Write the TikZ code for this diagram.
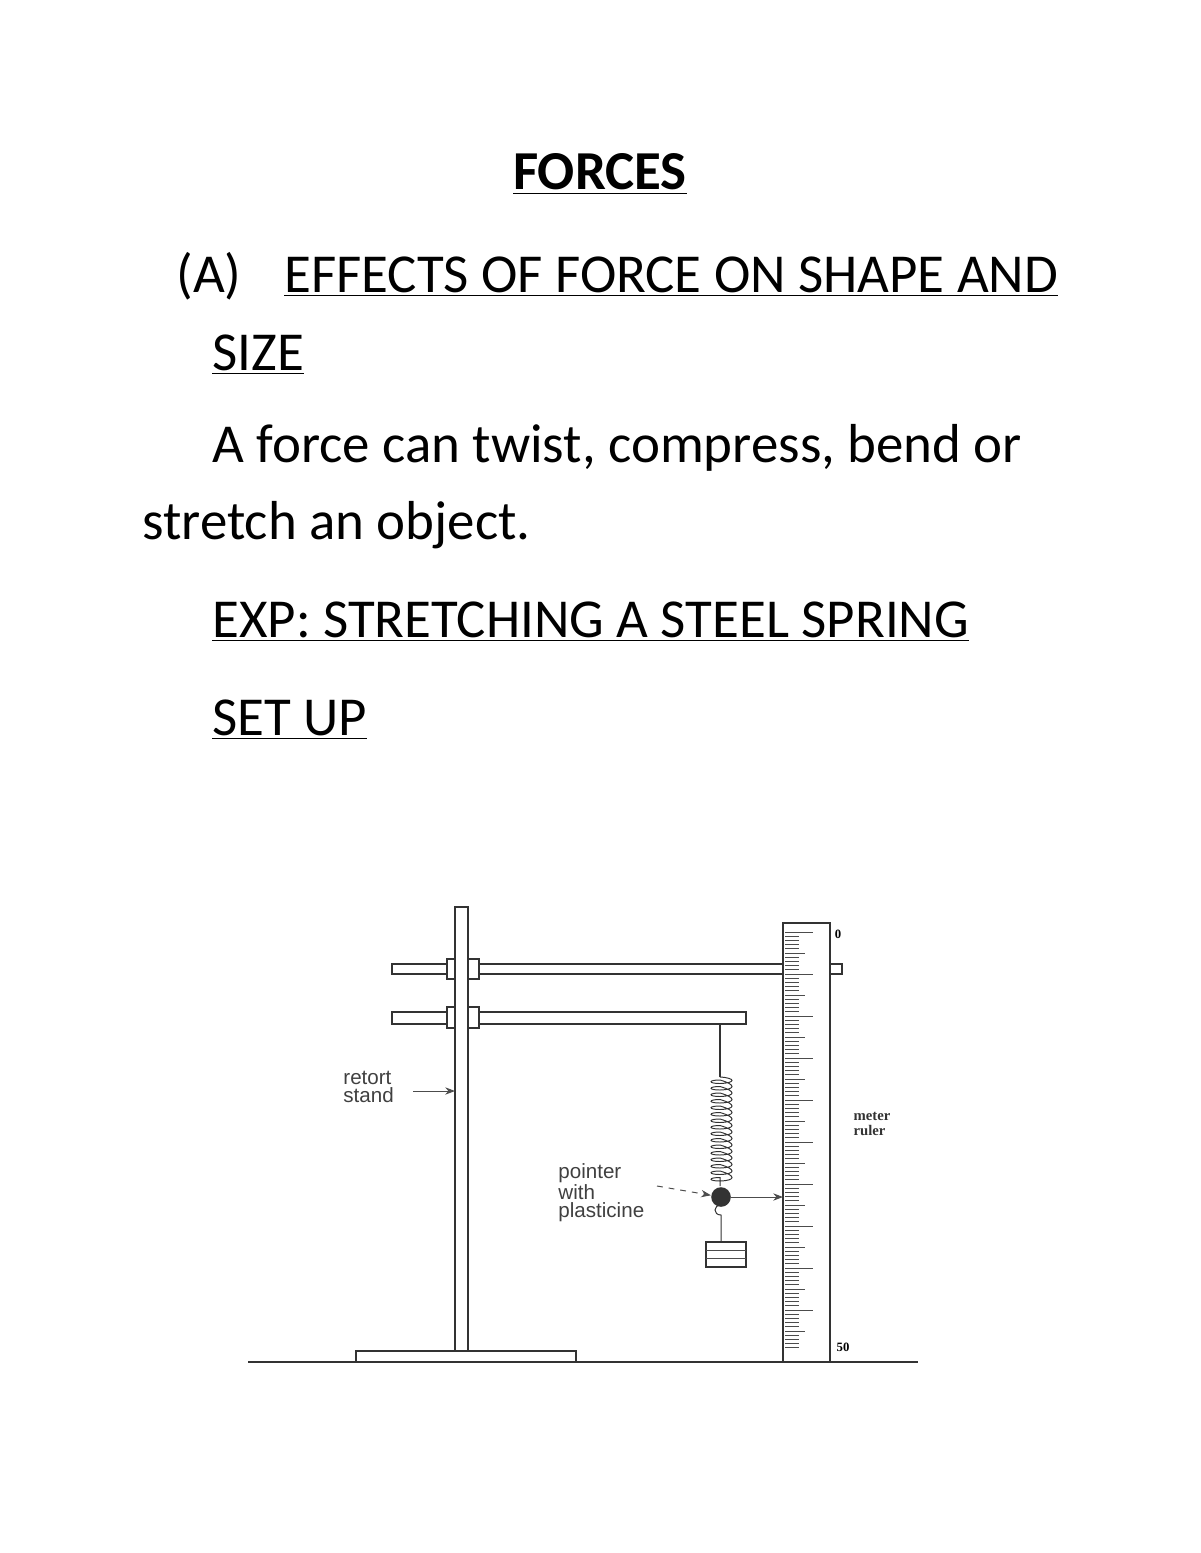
\documentclass[tikz,border=0pt]{standalone}
\usepackage{fontspec}
\setmainfont{Carlito}
\newfontfamily\armfont{Liberation Sans}
\newfontfamily\serfont{Liberation Serif}
\usetikzlibrary{arrows.meta}
\begin{document}
\begin{tikzpicture}[x=0.51pt,y=-0.51pt,
  body/.style={font=\fontsize{28}{30}\selectfont,anchor=base west,inner sep=0pt},
  lab/.style={font=\armfont\fontsize{10.5}{9}\selectfont,align=left,anchor=north west,inner sep=0pt,text=black!75},
  part/.style={draw=black!80,fill=white,line width=0.6pt},
  arr/.style={-{Stealth[length=5pt]},draw=black!70,line width=0.5pt}]
\useasboundingbox (0,0) rectangle (1200,1553);
\node[body,anchor=base] (title) at (600,190) {\textbf{\underline{FORCES}}};
\node[body] (a) at (176,292) {(A)};
\node[body] (h1) at (284,292) {\underline{EFFECTS OF FORCE ON SHAPE AND}};
\node[body] (h2) at (212,370) {\underline{SIZE}};
\node[body] (p1) at (212,462) {A force can twist, compress, bend or};
\node[body] (p2) at (142,539) {stretch an object.};
\node[body] (e) at (212,637) {\underline{EXP: STRETCHING A STEEL SPRING}};
\node[body] (s) at (212,735) {\underline{SET UP}};
% apparatus
\draw[black!80,line width=0.7pt] (248,1362) -- (918,1362);
\draw[part] (356,1351) rectangle (576,1362);
\draw[part] (392,964) rectangle (842,974);
\draw[part] (392,1012) rectangle (746,1024);
\draw[part] (455,907) rectangle (468,1351);
\draw[part] (447,959) rectangle (455,979);
\draw[part] (468,959) rectangle (479,979);
\draw[part] (447,1007) rectangle (455,1028);
\draw[part] (468,1007) rectangle (479,1028);
\draw[part] (783,923) rectangle (830,1362);
\foreach \i in {0,...,99}{
  \pgfmathsetmacro\yy{932+\i*4.2}
  \pgfmathsetmacro\ll{mod(\i,10)==0 ? 28 : (mod(\i,5)==0 ? 20 : 14)}
  \draw[black!70,line width=0.45pt] (785,\yy) -- ++(\ll,0);
}
\node[font=\serfont\fontsize{6.5}{6}\selectfont\bfseries] (zero) at (838,934) {0};
\node[font=\serfont\fontsize{6.5}{6}\selectfont\bfseries] (fifty) at (843,1347) {50};
\node[font=\serfont\fontsize{7.5}{7.5}\selectfont\bfseries,align=left,text=black!80] (mr) at (872,1124) {meter\\ruler};
% spring
\coordinate (top) at (720,1024);
\coordinate (sp) at (720,1077);
\draw[black!80,line width=0.6pt] (top) -- (sp);
\draw[black!80,line width=0.5pt] (sp) \foreach \k in {0,...,15}{ .. controls (736,1077+\k*6.5+1) and (736,1077+\k*6.5+6) .. (720,1077+\k*6.5+6.5) .. controls (708,1077+\k*6.5+6.5) and (708,1077+\k*6.5+3) .. (720,1077+\k*6.5+3)} -- (720,1186);
\node[circle,fill=black!80,inner sep=0pt,minimum size=10pt] (ball) at (721,1197) {};
\draw[black!80,line width=0.5pt] (721,1205) .. controls (713,1205) and (713,1215) .. (721,1215) -- (721,1242);
\draw[part] (706,1242) rectangle (746,1267);
\draw[black!70] (706,1250) -- (746,1250) (706,1258) -- (746,1258);
\coordinate (rl) at (783,1197);
\draw[arr] (ball) -- (rl);
\node[lab] (rs) at (343,1071) {retort\\stand};
\draw[arr] (413,1091) -- (455,1091);
\node[lab] (pw) at (558,1163) {pointer\\with\\plasticine};
\draw[arr,dashed] (657,1186) -- (ball);
\end{tikzpicture}
\end{document}
